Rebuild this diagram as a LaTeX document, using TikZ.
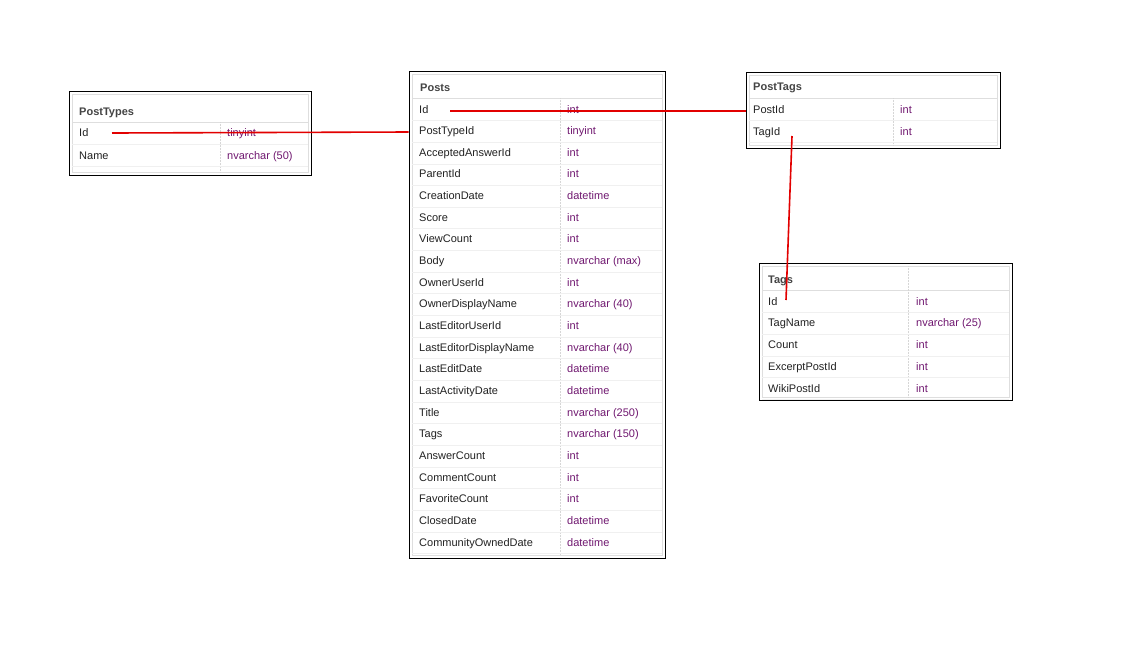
\documentclass[tikz,border=0pt]{standalone}
\usepackage{fontspec}
\setmainfont{Liberation Sans}
\definecolor{relred}{RGB}{226,0,0}
\definecolor{titlec}{RGB}{68,68,68}
\definecolor{fieldc}{RGB}{34,34,34}
\definecolor{typec}{RGB}{112,24,112}
\definecolor{linec}{RGB}{240,240,240}
\definecolor{innerc}{RGB}{222,222,222}
\definecolor{colc}{RGB}{214,214,214}
\tikzset{
  tbox/.style={draw=black, line width=1pt, inner sep=0, fill=white},
  innerframe/.style={draw=innerc, line width=0.6pt},
  rowsep/.style={draw=linec, line width=0.6pt},
  headsep/.style={draw=innerc, line width=0.8pt},
  colsep/.style={draw=colc, line width=0.5pt, densely dotted},
  ttl/.style={anchor=west, inner sep=0, text height=8pt, text depth=2pt, font=\bfseries\fontsize{11}{13}\selectfont, text=titlec},
  fld/.style={anchor=west, inner sep=0, text height=8pt, text depth=2pt, font=\fontsize{11}{13}\selectfont, text=fieldc},
  typ/.style={anchor=west, inner sep=0, text height=8pt, text depth=2pt, font=\fontsize{11}{13}\selectfont, text=typec},
  rel/.style={draw=relred, line width=1.6pt}
}
\begin{document}
\begin{tikzpicture}[x=1pt,y=-1pt]
\useasboundingbox (0,0) rectangle (1139,665);

% ---------- PostTypes ----------
\node[tbox, minimum width=242pt, minimum height=84pt] (ptypes) at (190,133) {};
\draw[innerframe] (72,94) rectangle (308,172);
\draw[headsep] (72,122) -- (308,122);
\draw[colsep] (220,122) -- (220,172);
\node[ttl] (ptypes-t) at (79,112) {PostTypes};
\foreach \n/\t [count=\i from 0] in {Id/tinyint, Name/nvarchar (50)} {
  \node[fld] (ptypes-\i-n) at (79,133+\i*23) {\n};
  \node[typ] (ptypes-\i-t) at (227,133+\i*23) {\t};
}
\draw[rowsep] (72,144) -- (308,144);
\draw[rowsep] (72,166) -- (308,166);

% ---------- Posts ----------
\node[tbox, minimum width=256pt, minimum height=487pt] (posts) at (537,314.5) {};
\draw[innerframe] (412,74) rectangle (662,555);
\draw[headsep] (412,98) -- (662,98);
\draw[colsep] (560,98) -- (560,555);
\node[ttl] (posts-t) at (420,88) {Posts};
\foreach \n/\t [count=\i from 0] in {
  Id/int, PostTypeId/tinyint, AcceptedAnswerId/int, ParentId/int,
  CreationDate/datetime, Score/int, ViewCount/int, Body/nvarchar (max),
  OwnerUserId/int, OwnerDisplayName/nvarchar (40), LastEditorUserId/int,
  LastEditorDisplayName/nvarchar (40), LastEditDate/datetime,
  LastActivityDate/datetime, Title/nvarchar (250), Tags/nvarchar (150),
  AnswerCount/int, CommentCount/int, FavoriteCount/int,
  ClosedDate/datetime, CommunityOwnedDate/datetime} {
  \node[fld] (posts-\i-n) at (419,110+\i*21.65) {\n};
  \node[typ] (posts-\i-t) at (567,110+\i*21.65) {\t};
  \draw[rowsep] (412,120.5+\i*21.65) -- (662,120.5+\i*21.65);
}

% ---------- PostTags ----------
\node[tbox, minimum width=254pt, minimum height=76pt] (ptags) at (873,110) {};
\draw[innerframe] (749,75) rectangle (997,145);
\draw[headsep] (749,98) -- (997,98);
\draw[colsep] (893,98) -- (893,145);
\node[ttl] (ptags-t) at (753,87) {PostTags};
\foreach \n/\t [count=\i from 0] in {PostId/int, TagId/int} {
  \node[fld] (ptags-\i-n) at (753,110+\i*22) {\n};
  \node[typ] (ptags-\i-t) at (900,110+\i*22) {\t};
  \draw[rowsep] (749,120.5+\i*22) -- (997,120.5+\i*22);
}

% ---------- Tags ----------
\node[tbox, minimum width=253pt, minimum height=137pt] (tags) at (885.5,331.5) {};
\draw[innerframe] (762,266) rectangle (1009,397);
\draw[headsep] (762,290) -- (1009,290);
\draw[colsep] (908,266) -- (908,397);
\node[ttl] (tags-t) at (768,280) {Tags};
\foreach \n/\t [count=\i from 0] in {Id/int, TagName/nvarchar (25), Count/int, ExcerptPostId/int, WikiPostId/int} {
  \node[fld] (tags-\i-n) at (768,302+\i*21.75) {\n};
  \node[typ] (tags-\i-t) at (916,302+\i*21.75) {\t};
  \draw[rowsep] (762,312.5+\i*21.75) -- (1009,312.5+\i*21.75);
}

% ---------- relations ----------
\coordinate (r1a) at (112,133);
\coordinate (r2a) at (450,111);
\coordinate (r3a) at (792,136);
\coordinate (r3b) at (786,300);
\draw[rel] (r1a) -- (posts.west |- 0,132);
\draw[rel] (r2a) -- (ptags.west |- 0,111);
\draw[rel] (r3a) -- (r3b);
\end{tikzpicture}
\end{document}
